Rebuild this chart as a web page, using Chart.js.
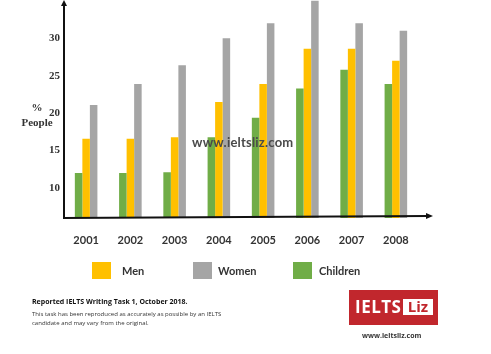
<!DOCTYPE html>
<html>
<head>
<meta charset="utf-8">
<script src="https://cdn.jsdelivr.net/npm/chart.js@4.4.1/dist/chart.umd.min.js"></script>
<style>
  html, body { margin: 0; padding: 0; background: #fff; }
  #wrap { position: relative; width: 491px; height: 354px; overflow: hidden; font-family: Lato, "Liberation Sans", sans-serif; }
  #c { position: absolute; left: 0; top: 0; }
  .abs { position: absolute; white-space: nowrap; }
  .sw { position: absolute; width: 19px; height: 17px; }
  .lg { position: absolute; font: bold 11px Lato, sans-serif; color: #333; line-height: 17px; }
</style>
</head>
<body>
<div id="wrap">
  <canvas id="c" width="491" height="354"></canvas>
  <div class="abs" style="left:20px;top:100px;width:34px;text-align:center;font:bold 11px 'Liberation Serif',serif;color:#333;line-height:15px;">%<br>People</div>
  <div class="abs" style="left:192px;top:134px;font:bold 13px Lato,sans-serif;color:#4a4a4a;letter-spacing:0.2px;">www.ieltsliz.com</div>

  <div class="sw" style="left:92px;top:262px;background:#ffc000;"></div>
  <div class="lg" style="left:122px;top:262px;">Men</div>
  <div class="sw" style="left:193px;top:262px;background:#a5a5a5;"></div>
  <div class="lg" style="left:218px;top:262px;">Women</div>
  <div class="sw" style="left:293px;top:262px;background:#70ad47;"></div>
  <div class="lg" style="left:319px;top:262px;">Children</div>

  <div class="abs" style="left:32px;top:297px;font:bold 7px 'Open Sans',sans-serif;color:#111;">Reported IELTS Writing Task 1, October 2018.</div>
  <div class="abs" style="left:32px;top:310px;font:6px 'Open Sans',sans-serif;color:#333;line-height:8.5px;">This task has been reproduced as accurately as possible by an IELTS<br>candidate and may vary from the original.</div>

  <div class="abs" style="left:349px;top:290px;width:89px;height:35px;background:#c1272d;"></div>
  <div class="abs" style="left:355px;top:297px;font:bold 17px 'Open Sans',sans-serif;color:#fff;line-height:19px;letter-spacing:0.5px;">IELTS</div>
  <div class="abs" style="left:403px;top:299px;width:30px;height:16px;background:#fff;"></div>
  <div class="abs" style="left:405px;top:297px;width:26px;text-align:center;font:bold 15px 'Open Sans',sans-serif;color:#c1272d;line-height:19px;">Liz</div>
  <div class="abs" style="left:362px;top:331px;font:bold 7px 'Open Sans',sans-serif;color:#333;">www.ieltsliz.com</div>
</div>
<script>
const years = ['2001','2002','2003','2004','2005','2006','2007','2008'];
const children = [12, 12, 12.1, 16.8, 19.4, 23.3, 25.8, 23.9];
const men      = [16.6, 16.6, 16.8, 21.5, 23.9, 28.6, 28.6, 27];
const women    = [21.1, 23.9, 26.4, 30, 32, 35, 32, 31];
const yTicks   = [10, 15, 20, 25, 30];

const axisPlugin = {
  id: 'axisArrows',
  afterDraw(chart) {
    const ctx = chart.ctx, a = chart.chartArea;
    ctx.save();
    ctx.strokeStyle = '#111';
    ctx.fillStyle = '#111';
    ctx.lineWidth = 2;
    ctx.beginPath();
    ctx.moveTo(a.left, a.bottom);
    ctx.lineTo(a.left, 4);
    ctx.stroke();
    ctx.beginPath();
    ctx.moveTo(a.left - 3, 6); ctx.lineTo(a.left, 0); ctx.lineTo(a.left + 3, 6); ctx.closePath(); ctx.fill();
    ctx.beginPath();
    ctx.moveTo(a.left - 1, a.bottom);
    ctx.lineTo(428, a.bottom - 2);
    ctx.stroke();
    ctx.beginPath();
    ctx.moveTo(426, a.bottom - 5); ctx.lineTo(433, a.bottom - 2); ctx.lineTo(426, a.bottom + 1); ctx.closePath(); ctx.fill();
    ctx.restore();
  }
};

new Chart(document.getElementById('c'), {
  type: 'bar',
  data: {
    labels: years,
    datasets: [
      { label: 'Children', data: children, backgroundColor: '#70ad47' },
      { label: 'Men', data: men, backgroundColor: '#ffc000' },
      { label: 'Women', data: women, backgroundColor: '#a5a5a5', clip: { left: 0, top: 20, right: 0, bottom: 0 } }
    ]
  },
  options: {
    responsive: false,
    animation: false,
    events: [],
    layout: { padding: { left: 0, top: 0, right: 73, bottom: 104 } },
    datasets: { bar: { barPercentage: 1, categoryPercentage: 0.51 } },
    plugins: { legend: { display: false }, tooltip: { enabled: false } },
    scales: {
      x: {
        grid: { display: false, drawTicks: false },
        border: { display: false },
        ticks: { padding: 16, color: '#333', font: { family: 'Lato', weight: 'bold', size: 11 } },
        afterFit(s) { s.height = 32; }
      },
      y: {
        min: 6, max: 33.7,
        grid: { display: false, drawTicks: false },
        border: { display: false },
        afterBuildTicks(s) { s.ticks = yTicks.map(v => ({ value: v })); },
        ticks: { padding: 4, color: '#333', font: { family: 'Liberation Serif', weight: 'bold', size: 11 } },
        afterFit(s) { s.width = 64; }
      }
    }
  },
  plugins: [axisPlugin]
});
</script>
</body>
</html>
